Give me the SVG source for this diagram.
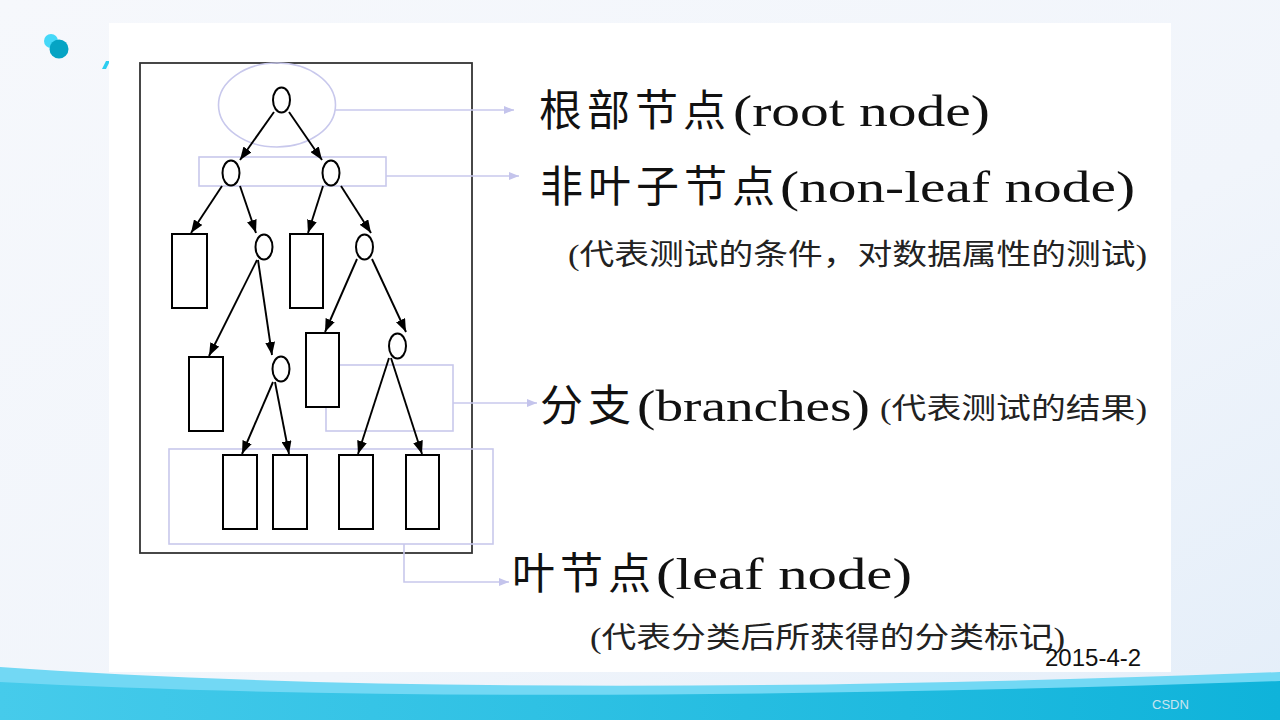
<svg xmlns="http://www.w3.org/2000/svg" width="1280" height="720" viewBox="0 0 1280 720">
<defs>
<linearGradient id="bg" x1="0" y1="0" x2="1" y2="1">
<stop offset="0" stop-color="#f6f8fc"/>
<stop offset="0.6" stop-color="#f1f5fb"/>
<stop offset="1" stop-color="#e4eef9"/>
</linearGradient>
<linearGradient id="band" x1="0" y1="0" x2="1" y2="0">
<stop offset="0" stop-color="#46cbeb"/>
<stop offset="1" stop-color="#0fb3da"/>
</linearGradient>
<marker id="ab" markerUnits="userSpaceOnUse" markerWidth="13" markerHeight="10" refX="13" refY="5" orient="auto">
<path d="M0,0 L13,5 L0,10 z" fill="#000"/>
</marker>
<marker id="ap" markerUnits="userSpaceOnUse" markerWidth="10" markerHeight="8" refX="10" refY="4" orient="auto">
<path d="M0,0 L10,4 L0,8 z" fill="#c4c4ec"/>
</marker>
</defs>
<style>
.edge{stroke:#000;stroke-width:1.9;fill:none;marker-end:url(#ab)}
.pl{stroke:#c8c8ec;stroke-width:1.6;fill:none}
.pa{stroke:#c8c8ec;stroke-width:1.6;fill:none;marker-end:url(#ap)}
.node{fill:#fff;stroke:#000;stroke-width:2}
.leaf{fill:#fff;stroke:#000;stroke-width:2}
.cjk{font-family:"Noto Sans CJK SC",sans-serif;font-size:43px;letter-spacing:5px;fill:#111}
.lat{font-family:"Liberation Serif",serif;font-size:44px;fill:#111}
.small{font-family:"Liberation Serif","Noto Sans CJK SC",serif;font-size:29px;fill:#222}
</style>
<rect x="0" y="0" width="1280" height="720" fill="url(#bg)"/>
<path d="M0,667 Q500,702 1280,672 L1280,720 L0,720 Z" fill="#72d8f4"/>
<path d="M0,682 Q500,708 1280,681 L1280,720 L0,720 Z" fill="url(#band)"/>
<circle cx="51" cy="41" r="7" fill="#45d8f8"/>
<circle cx="59" cy="49" r="9.5" fill="#06a4c4"/>
<path d="M102,69 L106,61 L110,61 L106,69 Z" fill="#2ccdf0"/>
<rect x="109" y="23" width="1062" height="649" fill="#fff"/>
<rect x="140" y="63" width="332" height="490" fill="none" stroke="#333" stroke-width="1.8"/>

<g id="highlights">
<ellipse cx="277" cy="105" rx="58.5" ry="42" class="pl"/>
<rect x="199" y="157" width="187" height="29" class="pl"/>
<rect x="326" y="365" width="127" height="66" class="pl"/>
<rect x="169" y="449" width="324" height="95" class="pl"/>
</g>

<g id="connectors">
<line class="edge" x1="274" y1="112" x2="240" y2="160"/>
<line class="edge" x1="289" y1="112" x2="322" y2="160"/>
<line class="edge" x1="222" y1="186" x2="191" y2="233"/>
<line class="edge" x1="240" y1="186" x2="256" y2="233"/>
<line class="edge" x1="323" y1="186" x2="308" y2="233"/>
<line class="edge" x1="341" y1="186" x2="371" y2="233"/>
<line class="edge" x1="257" y1="260" x2="209" y2="356"/>
<line class="edge" x1="258" y1="260" x2="272" y2="355"/>
<line class="edge" x1="357" y1="259" x2="325" y2="332"/>
<line class="edge" x1="372" y1="259" x2="406" y2="332"/>
<line class="edge" x1="273" y1="382" x2="242" y2="454"/>
<line class="edge" x1="275" y1="382" x2="289" y2="454"/>
<line class="edge" x1="389" y1="358" x2="358" y2="454"/>
<line class="edge" x1="391" y1="358" x2="422" y2="454"/>
<line class="pa" x1="335" y1="110" x2="514" y2="110"/>
<line class="pa" x1="386" y1="176" x2="519" y2="176"/>
<line class="pa" x1="453" y1="403" x2="537" y2="403"/>
<polyline class="pa" points="404,544 404,582 509,582"/>
</g>

<g id="n-root"><ellipse class="node" cx="281.5" cy="100" rx="8.5" ry="12.5"/></g>
<g id="n-l2a"><ellipse class="node" cx="231" cy="173" rx="8.5" ry="12.5"/></g>
<g id="n-l2b"><ellipse class="node" cx="331" cy="173" rx="8.5" ry="12.5"/></g>
<g id="n-leaf1"><rect class="leaf" x="172" y="234" width="35" height="74"/></g>
<g id="n-l3a"><ellipse class="node" cx="264" cy="247" rx="8.5" ry="12.5"/></g>
<g id="n-leaf2"><rect class="leaf" x="290" y="234" width="33" height="74"/></g>
<g id="n-l3b"><ellipse class="node" cx="364.5" cy="247" rx="8.5" ry="12.5"/></g>
<g id="n-leaf3"><rect class="leaf" x="189" y="357" width="34" height="74"/></g>
<g id="n-l4a"><ellipse class="node" cx="281" cy="369" rx="8.5" ry="12.5"/></g>
<g id="n-leaf4"><rect class="leaf" x="306" y="333" width="33" height="74"/></g>
<g id="n-l4b"><ellipse class="node" cx="397.5" cy="346" rx="8.5" ry="12.5"/></g>
<g id="n-leaf5"><rect class="leaf" x="223" y="455" width="34" height="74"/></g>
<g id="n-leaf6"><rect class="leaf" x="273" y="455" width="34" height="74" stroke-width="2.6"/></g>
<g id="n-leaf7"><rect class="leaf" x="339" y="455" width="34" height="74"/></g>
<g id="n-leaf8"><rect class="leaf" x="406" y="455" width="33" height="74"/></g>

<g id="labels">
<text class="cjk" x="539" y="126">根部节点</text>
<text class="lat" x="733" y="126" textLength="257" lengthAdjust="spacingAndGlyphs">(root node)</text>
<text class="cjk" x="540" y="202">非叶子节点</text>
<text class="lat" x="780" y="202" textLength="355" lengthAdjust="spacingAndGlyphs">(non-leaf node)</text>
<text class="small" x="568" y="265" textLength="579" lengthAdjust="spacingAndGlyphs">(代表测试的条件，对数据属性的测试)</text>
<text class="cjk" x="540" y="421">分支</text>
<text class="lat" x="637" y="421" textLength="233" lengthAdjust="spacingAndGlyphs">(branches)</text>
<text class="small" x="880" y="419" textLength="267" lengthAdjust="spacingAndGlyphs">(代表测试的结果)</text>
<text class="cjk" x="512" y="589">叶节点</text>
<text class="lat" x="656" y="589" textLength="256" lengthAdjust="spacingAndGlyphs">(leaf node)</text>
<text class="small" x="590" y="648" textLength="475" lengthAdjust="spacingAndGlyphs">(代表分类后所获得的分类标记)</text>
<text x="1045" y="666" font-family="Liberation Sans, Arial, sans-serif" font-size="24" fill="#111">2015-4-2</text>
<text x="1152" y="709" font-family="Liberation Sans, Arial, sans-serif" font-size="13" fill="#e8eef4" opacity="0.85">CSDN</text>
</g>
</svg>
